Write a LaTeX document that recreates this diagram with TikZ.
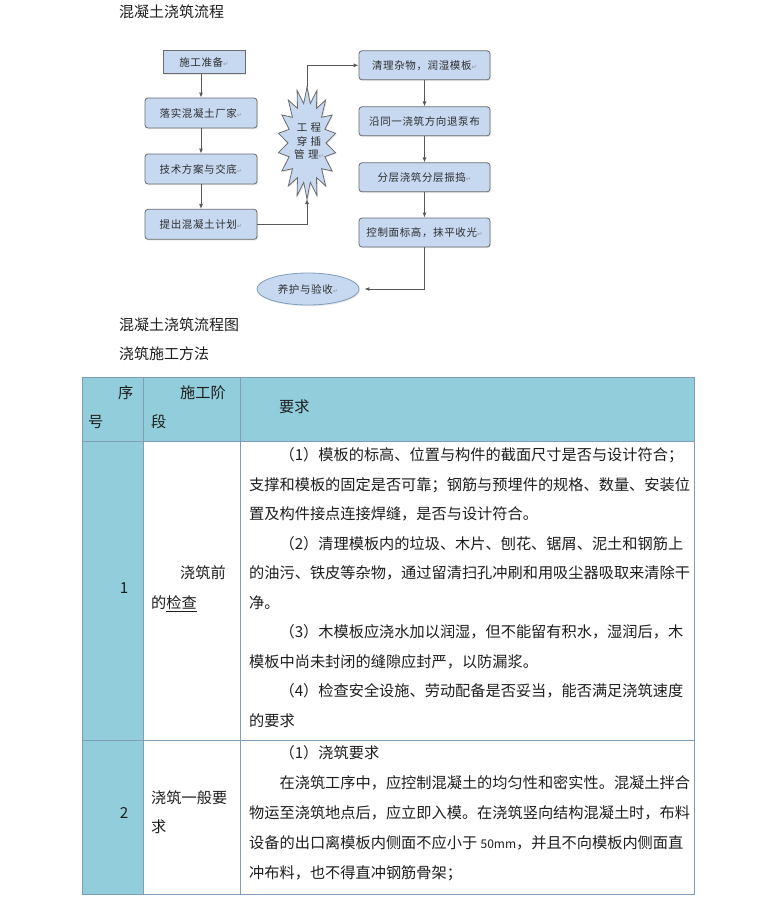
\documentclass[tikz,border=0pt]{standalone}
\usepackage{fontspec}
\newfontfamily\cjk{Noto Sans CJK SC}
\newfontfamily\cjkls[LetterSpace=6]{Noto Sans CJK SC}
\newfontfamily\dvu{DejaVu Sans}
\usetikzlibrary{arrows.meta,shapes.geometric,shadows}
\definecolor{boxfill}{HTML}{C6D9F1}
\definecolor{boxline}{HTML}{6B6B6B}
\definecolor{hdrfill}{HTML}{92CDDC}
\definecolor{gridline}{HTML}{7F9DB9}
\definecolor{txt}{HTML}{1E1E1E}
\definecolor{ftxt}{HTML}{2E2E2E}
\newcommand{\ret}{{\dvu\fontsize{6.5}{6.5}\selectfont\color{gray!80}↵}}
\tikzset{
  fbox/.style={draw=boxline, line width=0.8pt, fill=boxfill, rounded corners=3pt,
    font=\cjkls\fontsize{10.5}{10.5}\selectfont, text=ftxt, inner sep=0pt,
    drop shadow={opacity=0.18, shadow xshift=1.2pt, shadow yshift=-1.2pt}},
  conn/.style={draw=black!65, line width=0.9pt, -{Latex[length=5pt,width=4pt]}},
  tt/.style={font=\cjk\fontsize{15.2}{15.2}\selectfont, text=txt, anchor=west,
    inner sep=0pt, text height=13.3pt, text depth=1.9pt},
  ttc/.style={tt, anchor=center},
  captxt/.style={font=\cjk\fontsize{15}{15}\selectfont, text=txt, anchor=west, inner sep=0pt,
    text height=13.2pt, text depth=1.8pt},
}
\begin{document}
\begin{tikzpicture}[x=1pt,y=-1pt]
\useasboundingbox (0,0) rectangle (760,900);
\fill[white] (0,0) rectangle (760,900);

% title
\node[captxt] (title) at (119,12) {混凝土浇筑流程};

% ---------------- flowchart ----------------
\node[fbox, rounded corners=0pt, minimum width=82pt, minimum height=23pt] (a1) at (204,62) {施工准备\ret};
\node[fbox, minimum width=112pt, minimum height=30pt] (a2) at (201,113) {落实混凝土厂家\ret};
\node[fbox, minimum width=112pt, minimum height=30pt] (a3) at (201,169) {技术方案与交底\ret};
\node[fbox, minimum width=112pt, minimum height=30pt] (a4) at (201,224.3) {提出混凝土计划\ret};

\node[fbox, minimum width=131pt, minimum height=29pt] (b1) at (424.5,65.3) {清理杂物，润湿模板\ret};
\node[fbox, minimum width=131pt, minimum height=29pt] (b2) at (424.5,121.3) {沿同一浇筑方向退泵布};
\node[fbox, minimum width=131pt, minimum height=29pt] (b3) at (424.5,177.3) {分层浇筑分层振捣\ret};
\node[fbox, minimum width=131pt, minimum height=29pt] (b4) at (424.5,232.5) {控制面标高，抹平收光\ret};

\node[fbox, ellipse, draw=gridline, minimum width=102pt, minimum height=32pt] (e) at (308,289) {养护与验收\ret};

% star
\filldraw[draw=boxline, line width=0.8pt, fill=boxfill,
  drop shadow={opacity=0.18, shadow xshift=1.2pt, shadow yshift=-1.2pt}]
  plot[samples=37, domain=0:36, variable=\k]
  ({307 + ifthenelse(mod(\k,2)==0, 29, 19)*sin(\k*10)},
   {143 - ifthenelse(mod(\k,2)==0, 56, 40)*cos(\k*10)}) -- cycle;
\coordinate (startop) at (307,87);
\coordinate (starbot) at (307,199);
\node[font=\cjk\fontsize{10.5}{13.5}\selectfont, text=ftxt, align=center, inner sep=0pt] (starlbl) at (309,141.5)
  {工\,\,程\\穿\,\,插\\管\,\,理\ret};

% connectors
\draw[conn] (a1.south -| a2.north) -- (a2.north);
\draw[conn] (a2.south) -- (a3.north);
\draw[conn] (a3.south) -- (a4.north);
\draw[conn] (a4.east) -| (starbot);
\draw[conn] (startop) |- (b1.west);
\draw[conn] (b1.south) -- (b2.north);
\draw[conn] (b2.south) -- (b3.north);
\draw[conn] (b3.south) -- (b4.north);
\draw[conn, shorten >=5pt] (b4.south) |- (e.east);

% captions
\node[captxt] (cap1) at (119,325) {混凝土浇筑流程图};
\node[captxt] (cap2) at (119,354) {浇筑施工方法};

% ---------------- table ----------------
\fill[hdrfill] (82,377) rectangle (694,441);
\fill[hdrfill] (82,441) rectangle (143,894);
\draw[gridline, line width=1pt] (82,377) rectangle (694,894);
\draw[gridline, line width=1pt] (143,377) -- (143,894);
\draw[gridline, line width=1pt] (240,377) -- (240,894);
\draw[gridline, line width=1pt] (82,441) -- (694,441);
\draw[gridline, line width=1pt] (82,740) -- (694,740);

% header
\node[tt] (h1a) at (118,393) {序};
\node[tt] (h1b) at (88,422) {号};
\node[tt] (h2a) at (180,393) {施工阶};
\node[tt] (h2b) at (151,422) {段};
\node[tt] (h3) at (279,407) {要求};

% row 1
\node[ttc] (n1) at (124,588) {1};
\node[tt] (s1a) at (180,573) {浇筑前};
\node[tt] (s1b) at (151,602.5) {的\underline{检查}};
\node[tt] (r1l1) at (279.4,455) {（1）模板的标高、位置与构件的截面尺寸是否与设计符合；};
\node[tt] (r1l2) at (249,484.5) {支撑和模板的固定是否可靠；钢筋与预埋件的规格、数量、安装位};
\node[tt] (r1l3) at (249,514) {置及构件接点连接焊缝，是否与设计符合。};
\node[tt] (r1l4) at (279.4,543.5) {（2）清理模板内的垃圾、木片、刨花、锯屑、泥土和钢筋上};
\node[tt] (r1l5) at (249,573) {的油污、铁皮等杂物，通过留清扫孔冲刷和用吸尘器吸取来清除干};
\node[tt] (r1l6) at (249,602.5) {净。};
\node[tt] (r1l7) at (279.4,632) {（3）木模板应浇水加以润湿，但不能留有积水，湿润后，木};
\node[tt] (r1l8) at (249,661.5) {模板中尚未封闭的缝隙应封严，以防漏浆。};
\node[tt] (r1l9) at (279.4,691) {（4）检查安全设施、劳动配备是否妥当，能否满足浇筑速度};
\node[tt] (r1l10) at (249,720.5) {的要求};

% row 2
\node[ttc] (n2) at (124,813) {2};
\node[tt] (s2a) at (151,798) {浇筑一般要};
\node[tt] (s2b) at (151,827) {求};
\node[tt] (r2l1) at (279.4,753) {（1）浇筑要求};
\node[tt] (r2l2) at (279.4,783) {在浇筑工序中，应控制混凝土的均匀性和密实性。混凝土拌合};
\node[tt] (r2l3) at (249,813) {物运至浇筑地点后，应立即入模。在浇筑竖向结构混凝土时，布料};
\node[tt] (r2l4) at (249,843) {设备的出口离模板内侧面不应小于 {\fontsize{12}{12}\selectfont 50mm}，并且不向模板内侧面直};
\node[tt] (r2l5) at (249,873) {冲布料，也不得直冲钢筋骨架；};
\end{tikzpicture}
\end{document}
